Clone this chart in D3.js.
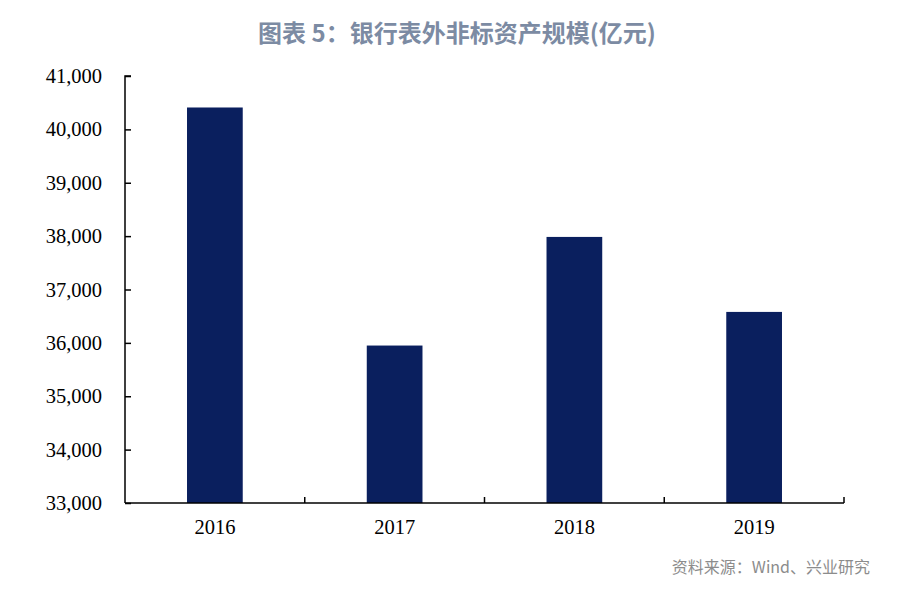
<!DOCTYPE html>
<html>
<head>
<meta charset="utf-8">
<script src="https://cdn.jsdelivr.net/npm/d3@7"></script>
<style>
    body { margin: 0; background: #fff; }
    .tick text { font-family: "Liberation Serif", "Times New Roman", serif; font-size: 20.5px; fill: #000; }
</style>
</head>
<body>
<svg id="chart" width="900" height="596"></svg>
<script>
// data
let years = ["2016", "2017", "2018", "2019"];
let values = [40410, 35950, 37985, 36580];
let yTicks = [33000, 34000, 35000, 36000, 37000, 38000, 39000, 40000, 41000];

let svg = d3.select("#chart");

let plotLeft = 125, plotRight = 844, plotTop = 76, plotBottom = 503;

let xScale = d3.scaleBand()
    .domain(years)
    .range([plotLeft, plotRight])
    .paddingInner(0.69)
    .paddingOuter(0.345);

let yScale = d3.scaleLinear()
    .domain([33000, 41000])
    .range([plotBottom, plotTop]);

// title
svg.append("text")
    .attr("x", 457)
    .attr("y", 42)
    .attr("text-anchor", "middle")
    .style("font-family", "'Noto Sans CJK SC', 'Noto Sans', sans-serif")
    .style("font-size", "24px")
    .style("font-weight", "bold")
    .style("fill", "#7c8ba3")
    .text("图表 5：银行表外非标资产规模(亿元)");

// bars
svg.append("g").selectAll("rect")
    .data(values)
    .enter().append("rect")
    .attr("x", (d, i) => xScale(years[i]))
    .attr("y", d => yScale(d))
    .attr("width", xScale.bandwidth())
    .attr("height", d => plotBottom - yScale(d))
    .style("fill", "#0a1f5e");

// y axis, ticks point inward
let yAxis = d3.axisRight(yScale)
    .tickValues(yTicks)
    .tickSize(6)
    .tickFormat(d3.format(","));

let gy = svg.append("g")
    .attr("transform", "translate(" + plotLeft + ",0)")
    .call(yAxis);
gy.select(".domain").attr("d", "M6," + plotTop + "H0V" + plotBottom).style("stroke", "#000").style("stroke-width", 1.5);
gy.selectAll(".tick line").style("stroke", "#000").style("stroke-width", 1.5);
gy.selectAll(".tick text")
    .attr("x", -23)
    .attr("text-anchor", "end");

// x axis with ticks between categories
let gx = svg.append("g")
    .attr("transform", "translate(0," + plotBottom + ")");
gx.append("line")
    .attr("x1", plotLeft).attr("x2", plotRight)
    .style("stroke", "#000").style("stroke-width", 1.5);
let step = xScale.step();
let bounds = years.map((d, i) => plotLeft + step * (i + 1));
gx.selectAll(".sep")
    .data(bounds)
    .enter().append("line")
    .attr("x1", d => d).attr("x2", d => d)
    .attr("y1", 0).attr("y2", -6)
    .style("stroke", "#000").style("stroke-width", 1.5);
gx.selectAll(".lbl")
    .data(years)
    .enter().append("text")
    .attr("x", d => xScale(d) + xScale.bandwidth() / 2)
    .attr("y", 30.5)
    .attr("text-anchor", "middle")
    .style("font-family", "'Liberation Serif', 'Times New Roman', serif")
    .style("font-size", "20.5px")
    .text(d => d);

// source note
svg.append("text")
    .attr("x", 870)
    .attr("y", 573)
    .attr("text-anchor", "end")
    .style("font-family", "'Noto Sans CJK SC', 'Noto Sans', sans-serif")
    .style("font-size", "16px")
    .style("fill", "#8c8c8c")
    .text("资料来源：Wind、兴业研究");
</script>
</body>
</html>
